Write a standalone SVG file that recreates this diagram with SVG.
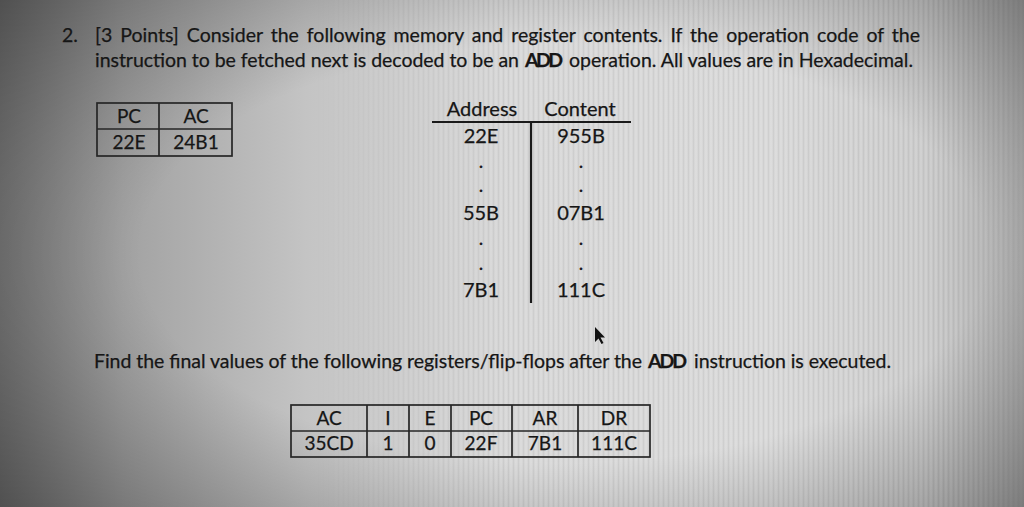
<svg xmlns="http://www.w3.org/2000/svg" width="1024" height="507" viewBox="0 0 1024 507">
<defs>
<linearGradient id="bgH" x1="0" y1="0" x2="1" y2="0">
<stop offset="0" stop-color="#7a7a7a"/>
<stop offset="0.12" stop-color="#a2a2a2"/>
<stop offset="0.3" stop-color="#c4c4c4"/>
<stop offset="0.5" stop-color="#d6d6d6"/>
<stop offset="0.75" stop-color="#d8d8d8"/>
<stop offset="0.9" stop-color="#cbcbcb"/>
<stop offset="1" stop-color="#a8a8a8"/>
</linearGradient>
<radialGradient id="vig" cx="0.55" cy="0.5" r="0.75">
<stop offset="0.55" stop-color="#000" stop-opacity="0"/>
<stop offset="1" stop-color="#000" stop-opacity="0.35"/>
</radialGradient>
<pattern id="stripes" width="5" height="10" patternUnits="userSpaceOnUse">
<rect x="0" y="0" width="2" height="10" fill="#ffffff" opacity="0.13"/>
<rect x="3" y="0" width="1" height="10" fill="#000000" opacity="0.04"/>
</pattern>
<linearGradient id="stripeMask" x1="0" y1="0" x2="1" y2="0">
<stop offset="0.3" stop-color="#fff" stop-opacity="0"/>
<stop offset="0.5" stop-color="#fff" stop-opacity="1"/>
<stop offset="0.92" stop-color="#fff" stop-opacity="1"/>
<stop offset="1" stop-color="#fff" stop-opacity="0.3"/>
</linearGradient>
<mask id="sm"><rect width="1024" height="507" fill="url(#stripeMask)"/></mask>
</defs>
<style>
text { font-family: Lato, "Open Sans", "Liberation Sans", sans-serif; fill: #161616; stroke: #161616; stroke-width: 0.25; }
.b { font-size: 19.5px; }
.w { word-spacing: 3px; }
.bold { font-weight: bold; }
.t { font-size: 19px; text-anchor: middle; }
.m { font-size: 20px; text-anchor: middle; }
.dot { font-size: 19px; text-anchor: middle; }
.grid { stroke: #262626; stroke-width: 1.7; fill: none; }
.rule { stroke: #1a1a1a; stroke-width: 2.2; fill: none; }
</style>
<rect width="1024" height="507" fill="url(#bgH)"/>
<rect width="1024" height="507" fill="url(#stripes)" mask="url(#sm)"/>
<rect width="1024" height="507" fill="url(#vig)"/>

<g id="question">
<text class="b" x="62" y="42">2.</text>
<text class="b w" x="95" y="42" textLength="825" lengthAdjust="spacingAndGlyphs">[3 Points] Consider the following memory and register contents. If the operation code of the</text>
<text class="b" x="95" y="67" textLength="424" lengthAdjust="spacing">instruction to be fetched next is decoded to be an</text>
<text class="b bold" x="525" y="67" textLength="38" lengthAdjust="spacing">ADD</text>
<text class="b" x="569" y="67" textLength="344" lengthAdjust="spacing">operation. All values are in Hexadecimal.</text>
</g>

<g id="registers-initial">
<rect class="grid" x="97" y="103" width="135" height="53"/>
<line class="grid" x1="97" y1="129" x2="232" y2="129"/>
<line class="grid" x1="159" y1="103" x2="159" y2="156"/>
<text class="t" x="129" y="123">PC</text>
<text class="t" x="196" y="123">AC</text>
<text class="t" x="129" y="149">22E</text>
<text class="t" x="196" y="149">24B1</text>
</g>

<g id="memory">
<line class="rule" x1="432" y1="122" x2="631" y2="122"/>
<line class="rule" x1="531" y1="122" x2="531" y2="303"/>
<text class="m" x="482" y="116">Address</text>
<text class="m" x="580" y="116">Content</text>
<text class="m" x="481" y="143">22E</text>
<text class="m" x="581" y="143">955B</text>
<text class="dot" x="481" y="168">.</text>
<text class="dot" x="581" y="168">.</text>
<text class="dot" x="481" y="192">.</text>
<text class="dot" x="581" y="192">.</text>
<text class="m" x="481" y="220">55B</text>
<text class="m" x="581" y="220">07B1</text>
<text class="dot" x="481" y="245">.</text>
<text class="dot" x="581" y="245">.</text>
<text class="dot" x="481" y="270">.</text>
<text class="dot" x="581" y="270">.</text>
<text class="m" x="481" y="297">7B1</text>
<text class="m" x="581" y="297">111C</text>
</g>

<g id="cursor">
<path d="M595,327 L595,342 L598.5,338.5 L601.5,344 L603.5,343 L600.5,337.5 L605,337.5 Z" fill="#111"/>
</g>

<g id="find">
<text class="b" x="94" y="368" textLength="548" lengthAdjust="spacing">Find the final values of the following registers/flip-flops after the</text>
<text class="b bold" x="648" y="368" textLength="39" lengthAdjust="spacing">ADD</text>
<text class="b" x="694" y="368" textLength="197" lengthAdjust="spacing">instruction is executed.</text>
</g>

<g id="registers-final">
<rect class="grid" x="291" y="405" width="359" height="52"/>
<line class="grid" x1="291" y1="431" x2="650" y2="431"/>
<line class="grid" x1="367" y1="405" x2="367" y2="457"/>
<line class="grid" x1="409" y1="405" x2="409" y2="457"/>
<line class="grid" x1="451" y1="405" x2="451" y2="457"/>
<line class="grid" x1="512" y1="405" x2="512" y2="457"/>
<line class="grid" x1="578" y1="405" x2="578" y2="457"/>
<text class="t" x="329" y="425">AC</text>
<text class="t" x="388" y="425">I</text>
<text class="t" x="430" y="425">E</text>
<text class="t" x="481" y="425">PC</text>
<text class="t" x="545" y="425">AR</text>
<text class="t" x="614" y="425">DR</text>
<text class="t" x="329" y="450">35CD</text>
<text class="t" x="388" y="450">1</text>
<text class="t" x="430" y="450">0</text>
<text class="t" x="481" y="450">22F</text>
<text class="t" x="545" y="450">7B1</text>
<text class="t" x="614" y="450">111C</text>
</g>
</svg>
